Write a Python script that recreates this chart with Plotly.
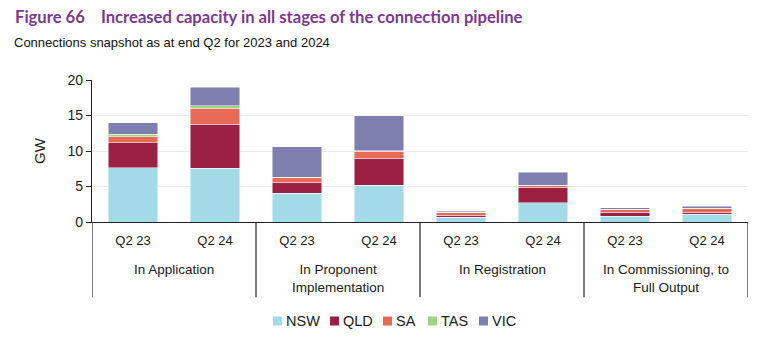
import plotly.graph_objects as go

# Connection pipeline stages and snapshot quarters
stage_names = ["In Application", "In Proponent<br>Implementation",
               "In Registration", "In Commissioning, to<br>Full Output"]
quarter_names = ["Q2 23", "Q2 24"]

categories = [f"{s}|{q}" for s in stage_names for q in quarter_names]
tick_text = [q for s in stage_names for q in quarter_names]

# Capacity by region (GW)
regions = ["NSW", "QLD", "SA", "TAS", "VIC"]
nsw = [7.65, 7.6, 4.05, 5.15, 0.65, 2.7, 0.8, 1.1]
qld = [3.5, 6.15, 1.55, 3.8, 0.3, 2.2, 0.6, 0.25]
sa = [0.85, 2.3, 0.65, 1.05, 0.4, 0.2, 0.4, 0.55]
tas = [0.35, 0.35, 0.05, 0.05, 0.02, 0.05, 0.0, 0.05]
vic = [1.6, 2.55, 4.3, 4.95, 0.15, 1.85, 0.2, 0.25]

colors = ["#A3DAE7", "#9B2044", "#E66A55", "#9ED67D", "#7E7FAE"]
values = [nsw, qld, sa, tas, vic]

W, H = 768, 343
ML, MR, MT, MB = 92, 20, 80, 121
PW, PH = W - ML - MR, H - MT - MB

fig = go.Figure()
for name, vals, color in zip(regions, values, colors):
    fig.add_trace(go.Bar(
        name=name,
        x=categories,
        y=vals,
        marker=dict(color=color, line=dict(color="rgba(255,255,255,0.6)", width=0.8)),
    ))

font_main = "Liberation Sans, Arial, sans-serif"
ink = "#1a1a1a"

fig.update_layout(
    barmode="stack",
    bargap=0.4,
    width=W,
    height=H,
    paper_bgcolor="white",
    plot_bgcolor="white",
    margin=dict(l=ML, r=MR, t=MT, b=MB, autoexpand=False),
    font=dict(family=font_main, size=13, color=ink),
    showlegend=False,
    xaxis=dict(
        type="category",
        categoryorder="array",
        categoryarray=categories,
        tickvals=categories,
        ticktext=tick_text,
        showline=True,
        linecolor="#222222",
        linewidth=1.2,
        ticks="",
        ticklabelstandoff=6,
        tickfont=dict(size=13, color=ink),
        range=[-0.5, 7.5],
        showgrid=False,
    ),
    yaxis=dict(
        range=[0, 20],
        tickvals=[0, 5, 10, 15, 20],
        showgrid=True,
        gridcolor="#EBEBEB",
        gridwidth=1,
        showline=True,
        linecolor="#222222",
        linewidth=1.2,
        ticks="outside",
        ticklen=5,
        tickcolor="#222222",
        tickfont=dict(size=14, color=ink),
        zeroline=False,
        title=dict(text="GW", font=dict(size=15, color=ink), standoff=18),
    ),
)

# Stage labels and dividers beneath the quarter labels
for i, stage in enumerate(stage_names):
    fig.add_annotation(
        xref="x", yref="paper", x=2 * i + 0.5, y=0, yanchor="top",
        yshift=-38, showarrow=False, text=stage,
        font=dict(size=13.5, color=ink), align="center",
    )
for b in [-0.5, 1.5, 3.5, 5.5, 7.5]:
    fig.add_shape(
        type="line", xref="x", yref="paper", x0=b, x1=b, y0=0, y1=-0.53,
        line=dict(color="#222222", width=1.2),
    )


def px_to_paper_x(px):
    return (px - ML) / PW


def px_to_paper_y(py):
    return (H - MB - py) / PH


# Compact key row: small swatch followed by the region name
key_y = 321
key_sq = 9
key_left = 273
label_widths = {"NSW": 33, "QLD": 29, "SA": 21, "TAS": 27, "VIC": 22}
x = key_left
for name, color in zip(regions, colors):
    fig.add_shape(
        type="rect", xref="paper", yref="paper",
        x0=px_to_paper_x(x), x1=px_to_paper_x(x + key_sq),
        y0=px_to_paper_y(key_y + key_sq / 2), y1=px_to_paper_y(key_y - key_sq / 2),
        fillcolor=color, line=dict(width=0),
    )
    fig.add_annotation(
        xref="paper", yref="paper",
        x=px_to_paper_x(x + key_sq + 2), y=px_to_paper_y(key_y),
        xanchor="left", yanchor="middle", showarrow=False, text=name,
        font=dict(size=14.5, color=ink),
    )
    x += key_sq + 3 + label_widths[name] + 12

fig.add_annotation(
    xref="paper", yref="paper", x=-0.12, y=1.0, xanchor="left", yanchor="bottom",
    yshift=51, showarrow=False,
    text="Figure 66&nbsp;&nbsp;&nbsp;&nbsp;Increased capacity in all stages of the connection pipeline",
    font=dict(family="Lato, sans-serif", size=16.6, color="#7B3990", weight="bold"),
)
fig.add_annotation(
    xref="paper", yref="paper", x=-0.122, y=1.0, xanchor="left", yanchor="bottom",
    yshift=28, showarrow=False,
    text="Connections snapshot as at end Q2 for 2023 and 2024",
    font=dict(family=font_main, size=13, color="#111111"),
)

fig.write_html("out.html")
